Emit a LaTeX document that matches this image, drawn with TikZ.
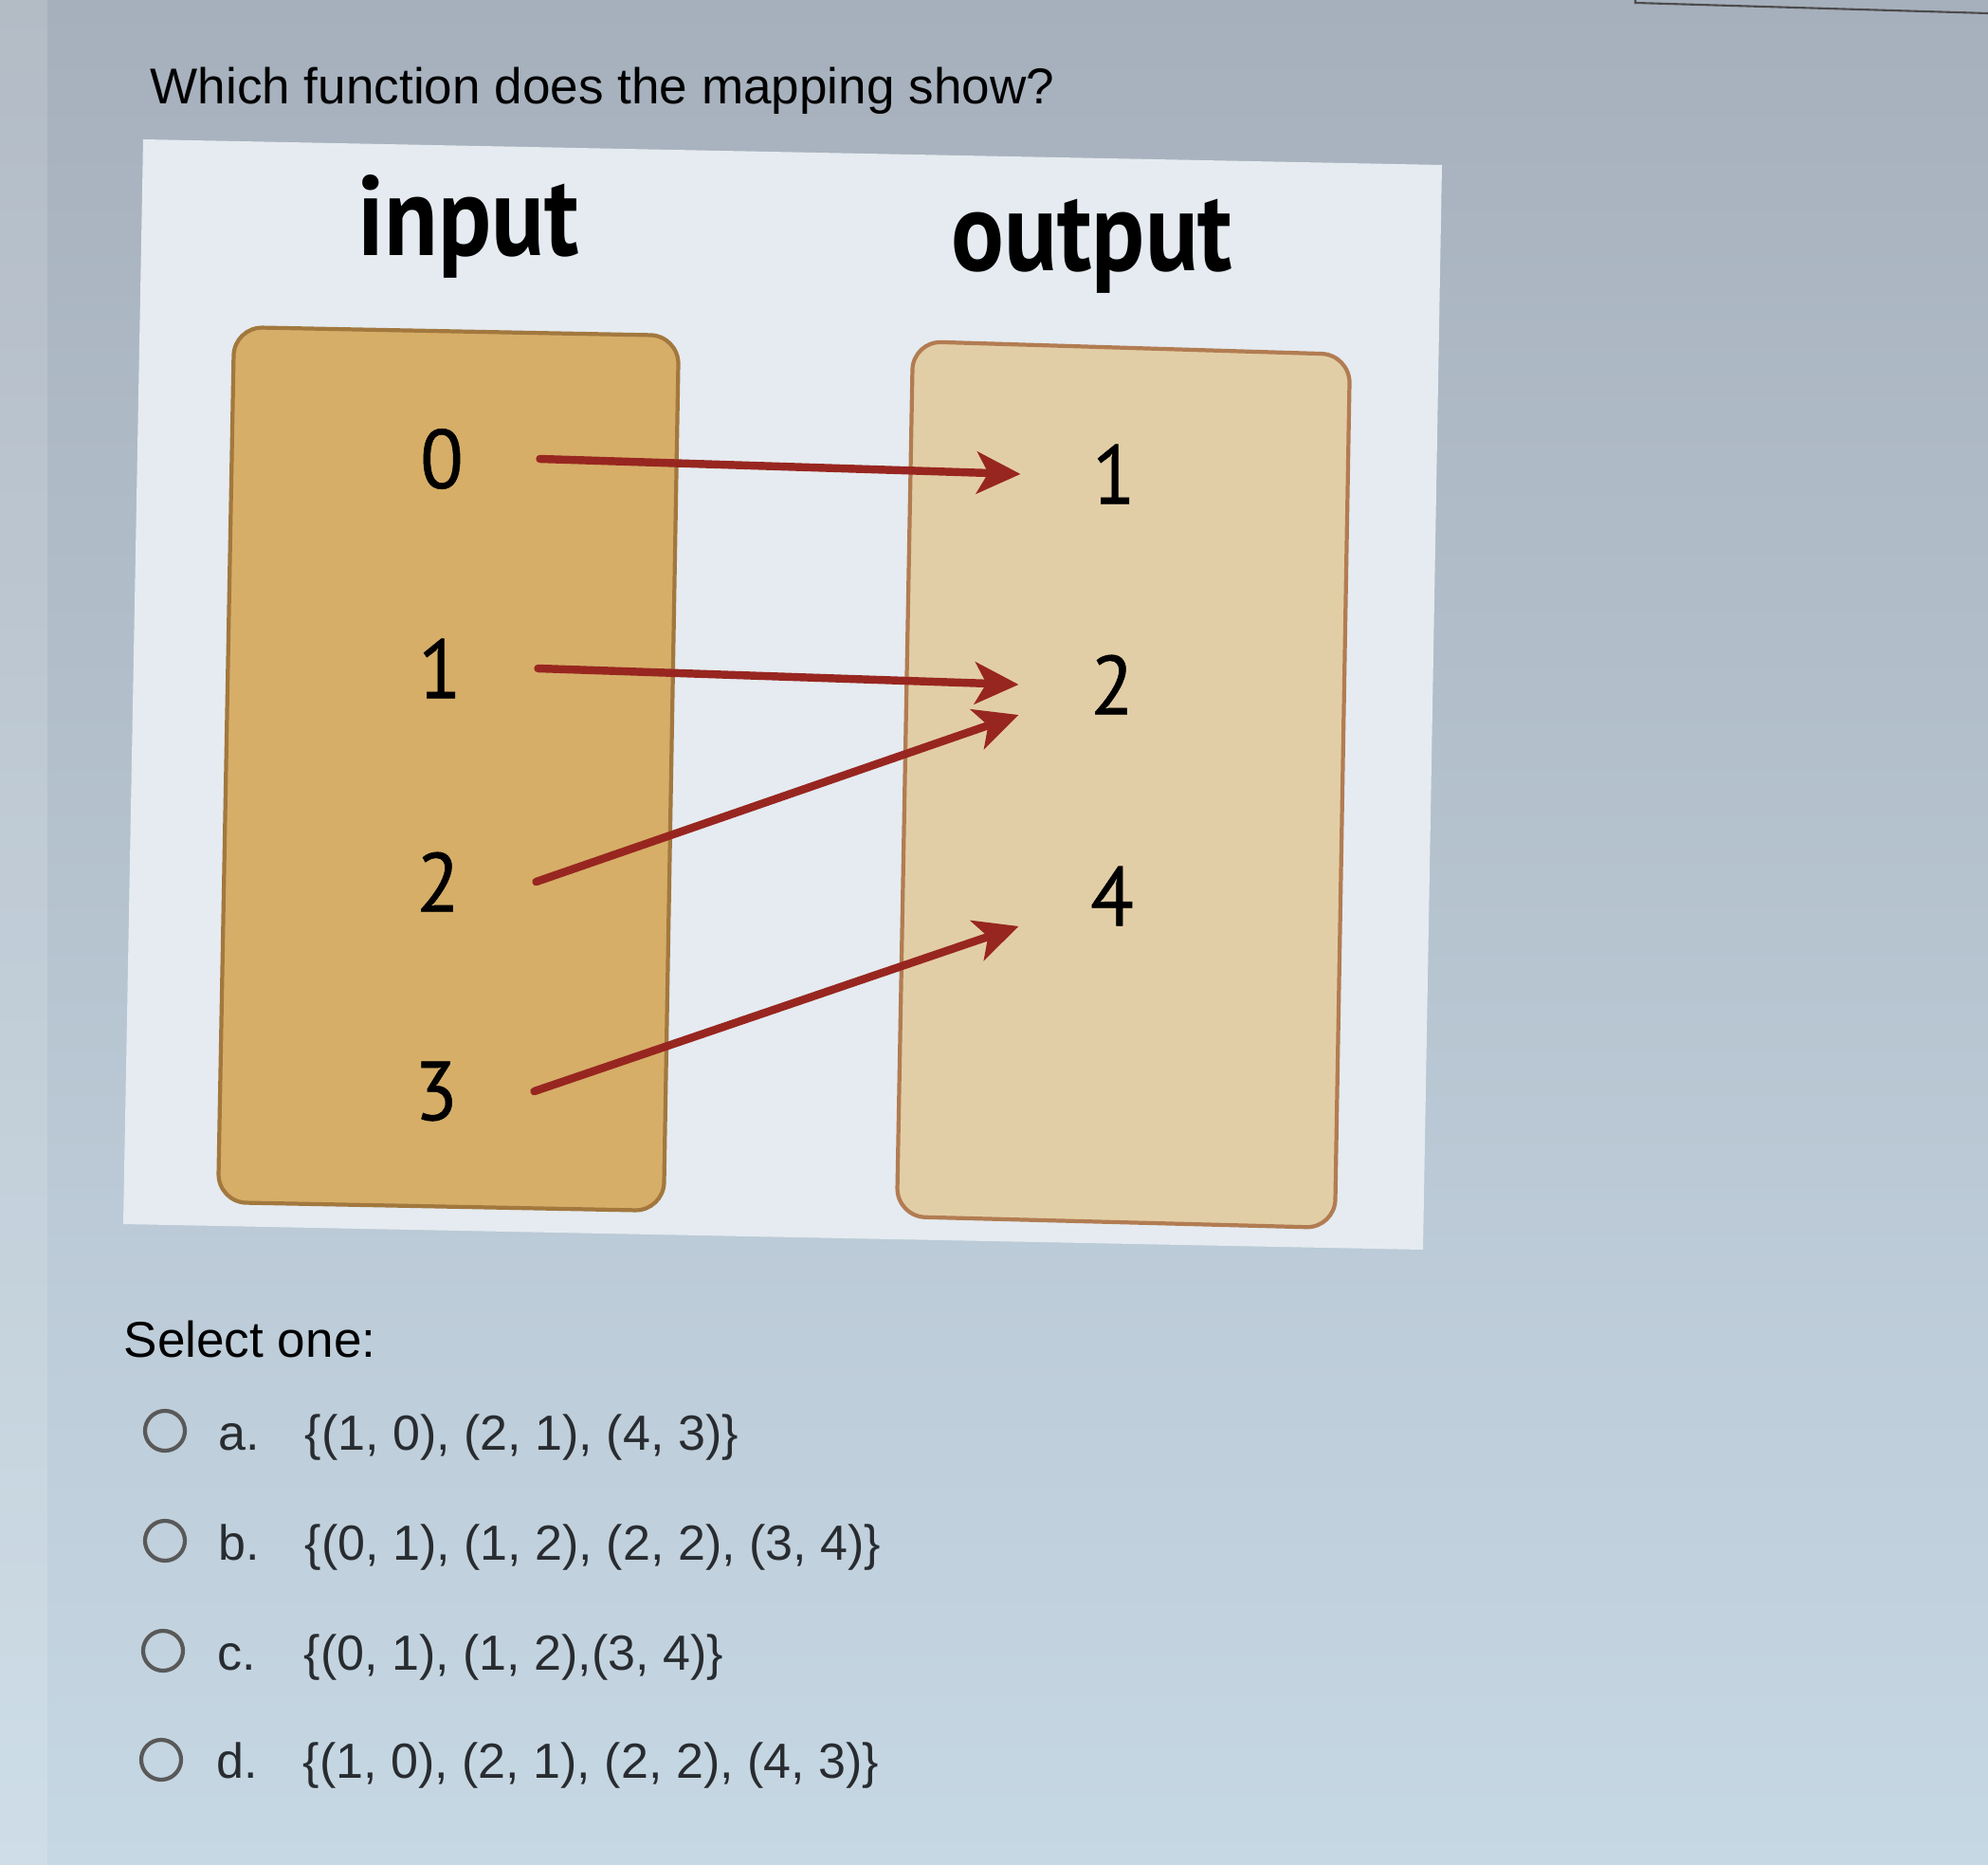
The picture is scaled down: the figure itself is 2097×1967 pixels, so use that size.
\documentclass[tikz,border=0pt]{standalone}
\usepackage{fontspec}
\setmainfont{Liberation Sans}
\newfontfamily\mapfont{PT Sans}[FakeStretch=0.87]
\newfontfamily\digitfont{PT Sans}[FakeStretch=0.95,FakeBold=0.6]
\usetikzlibrary{arrows.meta}
\definecolor{pagetop}{RGB}{166,176,188}
\definecolor{pagebottom}{RGB}{198,216,228}
\definecolor{panel}{RGB}{229,235,240}
\definecolor{inbox}{RGB}{214,174,104}
\definecolor{inedge}{RGB}{162,120,62}
\definecolor{outbox}{RGB}{226,206,166}
\definecolor{outedge}{RGB}{178,124,82}
\definecolor{arrowred}{RGB}{152,38,32}
\definecolor{optiontext}{RGB}{40,44,48}
\begin{document}
\begin{tikzpicture}[x=0.01cm,y=-0.01cm,line cap=round,
	mapto/.style={draw=arrowred,line width=2.4pt,-{Stealth[length=0.46cm,width=0.44cm,inset=0.12cm]}},
	indigit/.style={font=\digitfont\fontsize{25}{30}\selectfont,inner ysep=0pt,inner xsep=0.8cm},
	outdigit/.style={font=\digitfont\fontsize{25}{30}\selectfont,inner ysep=0pt,inner xsep=0.75cm},
	headlabel/.style={font=\mapfont\bfseries\fontsize{34}{40}\selectfont,inner sep=0pt,anchor=base},
	radio/.style={draw=black!65,line width=1.2pt,circle,minimum size=0.42cm,inner sep=0pt},
	optletter/.style={font=\fontsize{14.8}{18}\selectfont,text=optiontext,anchor=base west,inner sep=0pt},
	question/.style={font=\fontsize{15.1}{18}\selectfont,anchor=base west,inner sep=0pt}]
		% page
		\useasboundingbox (0,0) rectangle (2097,1967);
		\shade[top color=pagetop,bottom color=pagebottom] (0,0) rectangle (2097,1967);
		\fill[white,opacity=0.15] (0,0) rectangle (50,1967);
		\draw[black!70,line width=0.6pt] (1725,0) -- (1725,3) -- (2097,14);
		\node[question] (title) at (158,110) {Which function does the mapping show?};
		% picture
		\fill[panel] (151,147) -- (1521,174) -- (1501,1318) -- (130,1291) -- cycle;
		\filldraw[fill=inbox,draw=inedge,line width=1.2pt,rounded corners=0.3cm] (247,345) -- (716,354) -- (700,1277) -- (230,1268) -- cycle;
		\filldraw[fill=outbox,draw=outedge,line width=1.2pt,rounded corners=0.3cm] (963,360) -- (1424,374) -- (1408,1295) -- (946,1283) -- cycle;
		\node[headlabel] (input) at (494,270) {input};
		\node[headlabel] (output) at (1152,286) {output};
		\node[indigit] (in0) at (466,484) {0};
		\node[indigit] (in1) at (464,705) {1};
		\node[indigit] (in2) at (462,930) {2};
		\node[indigit] (in3) at (460,1151) {3};
		\node[outdigit] (out1) at (1175,500) {1};
		\node[outdigit] (out2) at (1173,722) {2};
		\node[outdigit] (out4) at (1173,945) {4};
		\draw[mapto] (in0.east) -- (out1.west);
		\draw[mapto] (in1.east) -- (out2.west);
		\draw[mapto] (in2.east) -- (out2.south west);
		\draw[mapto] (in3.east) -- (out4.south west);
		% choices
		\node[question] (select) at (130,1431) {Select one:};
		\node[radio] (ra) at (174,1509) {};
		\node[radio] (rb) at (174,1625) {};
		\node[radio] (rc) at (172,1741) {};
		\node[radio] (rd) at (170,1856) {};
		\node[optletter] (la) at (230,1529) {a.};
		\node[optletter] (lb) at (230,1645) {b.};
		\node[optletter] (lc) at (229,1761) {c.};
		\node[optletter] (ld) at (228,1875) {d.};
		\node[optletter] (sa) at (321,1529) {\{(1, 0), (2, 1), (4, 3)\}};
		\node[optletter] (sb) at (321,1645) {\{(0, 1), (1, 2), (2, 2), (3, 4)\}};
		\node[optletter] (sc) at (320,1761) {\{(0, 1), (1, 2),(3, 4)\}};
		\node[optletter] (sd) at (319,1875) {\{(1, 0), (2, 1), (2, 2), (4, 3)\}};
\end{tikzpicture}
\end{document}
